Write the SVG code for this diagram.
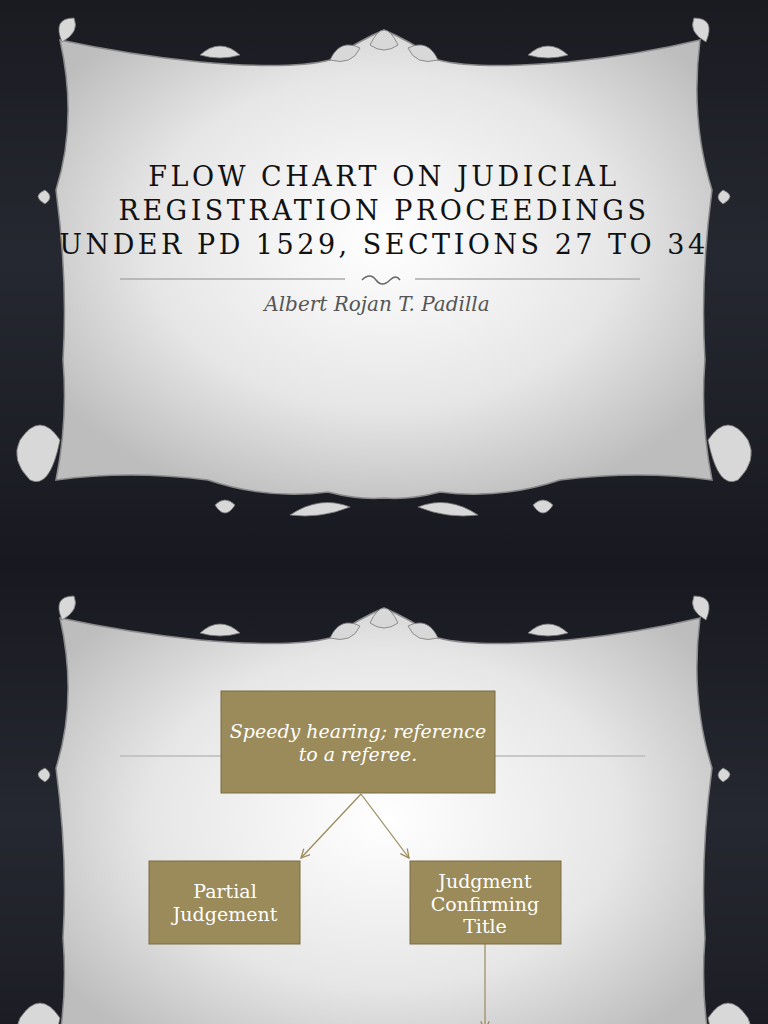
<svg xmlns="http://www.w3.org/2000/svg" width="768" height="1024" viewBox="0 0 768 1024">
<defs>
<radialGradient id="pg" cx="0.5" cy="0.45" r="0.6"><stop offset="0" stop-color="#ffffff"/><stop offset="0.6" stop-color="#e6e6e6"/><stop offset="1" stop-color="#bdbdbd"/></radialGradient>
<linearGradient id="bg" x1="0" y1="0" x2="0" y2="1"><stop offset="0" stop-color="#1a1b21"/><stop offset="0.25" stop-color="#262831"/><stop offset="0.55" stop-color="#181920"/><stop offset="0.8" stop-color="#262831"/><stop offset="1" stop-color="#1c1d24"/></linearGradient>
<marker id="ah" viewBox="0 0 10 10" refX="9" refY="5" markerWidth="9" markerHeight="9" orient="auto"><path d="M1 1 L9 5 L1 9" fill="none" stroke="#9b8b5a" stroke-width="1.2"/></marker>
<path id="frame" d="M60 40 Q130 55 200 62 Q290 70 330 60 Q360 40 384 30 Q408 40 438 60 Q478 70 568 62 Q638 55 700 40 Q690 120 712 190 Q700 280 705 360 Q700 420 712 480 Q640 470 560 480 Q500 500 440 492 Q410 500 384 498 Q358 500 328 492 Q268 500 208 480 Q128 470 56 480 Q68 420 63 360 Q68 280 56 190 Q78 120 60 40 Z"/>
<g id="orn" fill="#d8d8d8" stroke="#777" stroke-width="0.8">
<path d="M370 45 q14 -30 28 0 q-14 10 -28 0 Z"/><path d="M330 60 q10 -22 30 -12 q-8 18 -30 12 Z"/><path d="M438 60 q-10 -22 -30 -12 q8 18 30 12 Z"/>
<path d="M200 55 q20 -18 40 0 q-20 6 -40 0 Z"/><path d="M528 55 q20 -18 40 0 q-20 6 -40 0 Z"/>
<path d="M62 42 q-10 -24 12 -24 q6 14 -12 24 Z"/><path d="M706 42 q10 -24 -12 -24 q-6 14 12 24 Z"/>
<path d="M45 190 q-14 6 0 14 q10 -7 0 -14 Z"/><path d="M723 190 q14 6 0 14 q-10 -7 0 -14 Z"/>
</g>
<g id="ornb" fill="#d8d8d8" stroke="#777" stroke-width="0.8">
<path d="M20 440 q20 -30 40 0 q-10 50 -30 40 q-20 -20 -10 -40 Z"/><path d="M748 440 q-20 -30 -40 0 q10 50 30 40 q20 -20 10 -40 Z"/>
<path d="M290 515 q30 -20 60 -8 q-30 12 -60 8 Z"/><path d="M478 515 q-30 -20 -60 -8 q30 12 60 8 Z"/>
<path d="M215 505 q10 -10 20 0 q-10 16 -20 0 Z"/><path d="M533 505 q10 -10 20 0 q-10 16 -20 0 Z"/>
</g>
</defs>
<style>
.frame{fill:url(#pg);stroke:#8a8a8a;stroke-width:1.5}
.box{fill:#9b8b5a;stroke:#7a6d45;stroke-width:1}
.bt{font-family:"DejaVu Serif",serif;fill:#fff;font-size:19px;text-anchor:middle}
.con{stroke:#9b8b5a;stroke-width:1.2;fill:none;marker-end:url(#ah)}
</style>
<rect width="768" height="1024" fill="url(#bg)"/>
<g id="slide1">
<use href="#frame" class="frame"/>
<use href="#orn"/><use href="#ornb"/>
<text x="384" y="186" font-family="DejaVu Serif,serif" font-size="27" letter-spacing="3.5" text-anchor="middle" fill="#111">FLOW CHART ON JUDICIAL</text>
<text x="384" y="220" font-family="DejaVu Serif,serif" font-size="27" letter-spacing="3.5" text-anchor="middle" fill="#111">REGISTRATION PROCEEDINGS</text>
<text x="384" y="254" font-family="DejaVu Serif,serif" font-size="27" letter-spacing="3.5" text-anchor="middle" fill="#111">UNDER PD 1529, SECTIONS 27 TO 34</text>
<line x1="120" y1="279" x2="345" y2="279" stroke="#aaa" stroke-width="1.5"/>
<line x1="415" y1="279" x2="640" y2="279" stroke="#aaa" stroke-width="1.5"/>
<path d="M362 280 q8 -8 14 0 q6 8 14 0 q6 -6 10 0" fill="none" stroke="#666" stroke-width="1.5"/>
<text x="377" y="311" font-family="DejaVu Serif,serif" font-style="italic" font-size="20" text-anchor="middle" fill="#555">Albert Rojan T. Padilla</text>
</g>
<g id="slide2">
<use href="#frame" class="frame" transform="translate(0 578)"/>
<use href="#orn" transform="translate(0 578)"/><use href="#ornb" transform="translate(0 578)"/>
<line x1="120" y1="756" x2="645" y2="756" stroke="#bbb" stroke-width="1.5"/>
</g>
<g id="connectors">
<line class="con" x1="361" y1="794" x2="301" y2="858"/>
<line class="con" x1="361" y1="794" x2="409" y2="858"/>
<line class="con" x1="485" y1="944" x2="485" y2="1030"/>
</g>
<g id="n1"><rect class="box" x="221" y="691" width="274" height="102"/>
<text class="bt" x="358" y="738" font-style="italic">Speedy hearing; reference</text>
<text class="bt" x="358" y="761" font-style="italic">to a referee.</text></g>
<g id="n2"><rect class="box" x="149" y="861" width="151" height="83"/>
<text class="bt" x="225" y="898">Partial</text><text class="bt" x="225" y="921">Judgement</text></g>
<g id="n3"><rect class="box" x="410" y="861" width="151" height="83"/>
<text class="bt" x="485" y="888">Judgment</text><text class="bt" x="485" y="911">Confirming</text><text class="bt" x="485" y="933">Title</text></g>
</svg>
